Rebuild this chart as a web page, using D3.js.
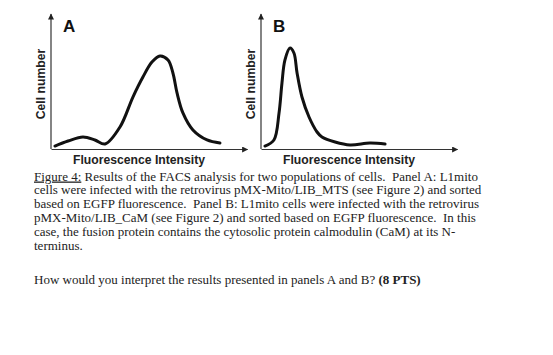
<!DOCTYPE html>
<html><head><meta charset="utf-8">
<script src="https://cdn.jsdelivr.net/npm/d3@7"></script>
<style>
body{margin:0;background:#fff;}
svg{display:block;}
</style></head>
<body>
<svg id="c" width="553" height="355"></svg>
<script>
// Panel A: fluorescence intensity (0-100) vs cell number (0-100)
const panelAIntensity = [2, 8.7, 16.3, 22.4, 27.6, 35.2, 41.8, 46.9, 51.5, 55.6, 59.7, 62.2, 64.3, 67.3, 72.4, 79.6, 86.2];
const panelACells     = [2.2, 5.9, 8.9, 6.7, 3.7, 16.3, 38.5, 53.3, 64.4, 68.9, 65.9, 56.3, 41.5, 26.7, 14.1, 6.7, 4.4];
// Panel B
const panelBIntensity = [2, 6.6, 9.2, 10.7, 12.2, 14.8, 16.8, 18.4, 20.9, 24.5, 28.6, 31.1, 37.8, 45.4, 55.6, 63.3];
const panelBCells     = [2.2, 6.7, 26.7, 48.9, 65.9, 74.8, 71.1, 56.3, 38.5, 23.7, 12.6, 8.9, 5.2, 3.0, 4.4, 3.7];

const panelLabels = ["A", "B"];
const xAxisTitle = "Fluorescence Intensity";
const yAxisTitle = "Cell number";

const captionLines = [
  [["Figure 4:", "u"], [" Results of the FACS analysis for two populations of cells.  Panel A: L1mito", ""]],
  [["cells were infected with the retrovirus pMX-Mito/LIB_MTS (see Figure 2) and sorted", ""]],
  [["based on EGFP fluorescence.  Panel B: L1mito cells were infected with the retrovirus", ""]],
  [["pMX-Mito/LIB_CaM (see Figure 2) and sorted based on EGFP fluorescence.  In this", ""]],
  [["case, the fusion protein contains the cytosolic protein calmodulin (CaM) at its N-", ""]],
  [["terminus.", ""]]
];
const questionParts = [["How would you interpret the results presented in panels A and B? ", ""], ["(8 PTS)", "b"]];

const svg = d3.select("#c");
const defs = svg.append("defs");
defs.append("marker").attr("id","arr").attr("viewBox","0 0 10 10").attr("refX",9).attr("refY",5)
  .attr("markerWidth",7).attr("markerHeight",6).attr("markerUnits","userSpaceOnUse").attr("orient","auto")
  .append("path").attr("d","M0,0 L10,5 L0,10 z").attr("fill","#222");

const panels = [
  {x0: 51, label: panelLabels[0], xs: panelAIntensity, ys: panelACells, titleX: 139},
  {x0: 261, label: panelLabels[1], xs: panelBIntensity, ys: panelBCells, titleX: 349}
];
const baseY = 149, topY = 14, axisLen = 196;

panels.forEach(p => {
  const g = svg.append("g");
  const x = d3.scaleLinear().domain([0,100]).range([p.x0, p.x0 + axisLen]);
  const y = d3.scaleLinear().domain([0,100]).range([baseY, topY]);
  const xa = g.append("g").attr("transform",`translate(0,${baseY})`)
    .call(d3.axisBottom(x).ticks(0).tickSize(0).tickSizeOuter(0));
  xa.select(".domain").attr("stroke","#333").attr("stroke-width",1.2).attr("marker-end","url(#arr)");
  const ya = g.append("g").attr("transform",`translate(${p.x0},0)`)
    .call(d3.axisLeft(y).ticks(0).tickSize(0).tickSizeOuter(0));
  ya.select(".domain").attr("d", `M0,${baseY}V${topY}`).attr("stroke","#333").attr("stroke-width",1.2).attr("marker-end","url(#arr)");

  const pts = p.xs.map((v,i)=>[v, p.ys[i]]);
  const line = d3.line().x(d=>x(d[0])).y(d=>y(d[1])).curve(d3.curveCatmullRom.alpha(0.5));
  g.append("path").datum(pts).attr("d", line).attr("fill","none").attr("stroke","#111")
    .attr("stroke-width",3).attr("stroke-linejoin","round").attr("stroke-linecap","round");

  g.append("text").attr("x", p.x0 + 12).attr("y", 32).text(p.label)
    .attr("font-family","Liberation Sans, Arial, sans-serif").attr("font-weight","bold").attr("font-size",17).attr("fill","#111");
  g.append("text").attr("transform",`translate(${p.x0 - 6},84) rotate(-90)`).attr("text-anchor","middle")
    .text(yAxisTitle).attr("font-family","Liberation Sans, Arial, sans-serif").attr("font-weight","bold").attr("font-size",12.2).attr("fill","#222");
  g.append("text").attr("x", p.titleX).attr("y", 164).attr("text-anchor","middle")
    .text(xAxisTitle).attr("font-family","Liberation Sans, Arial, sans-serif").attr("font-weight","bold").attr("font-size",12.2).attr("fill","#222");
});

const cap = svg.append("g").attr("font-family","Liberation Serif, Times New Roman, serif").attr("font-size",13).attr("fill","#222");
captionLines.forEach((ln,i)=>{
  const t = cap.append("text").attr("x",34).attr("y",180.5 + i*13.8).attr("xml:space","preserve");
  ln.forEach(([s,st])=>{
    const ts = t.append("tspan").text(s);
    if(st==="u") ts.attr("text-decoration","underline");
    if(st==="b") ts.attr("font-weight","bold");
  });
});
const q = cap.append("text").attr("x",34).attr("y",284).attr("xml:space","preserve");
questionParts.forEach(([s,st])=>{
  const ts = q.append("tspan").text(s);
  if(st==="b") ts.attr("font-weight","bold");
});
</script>
</body></html>
